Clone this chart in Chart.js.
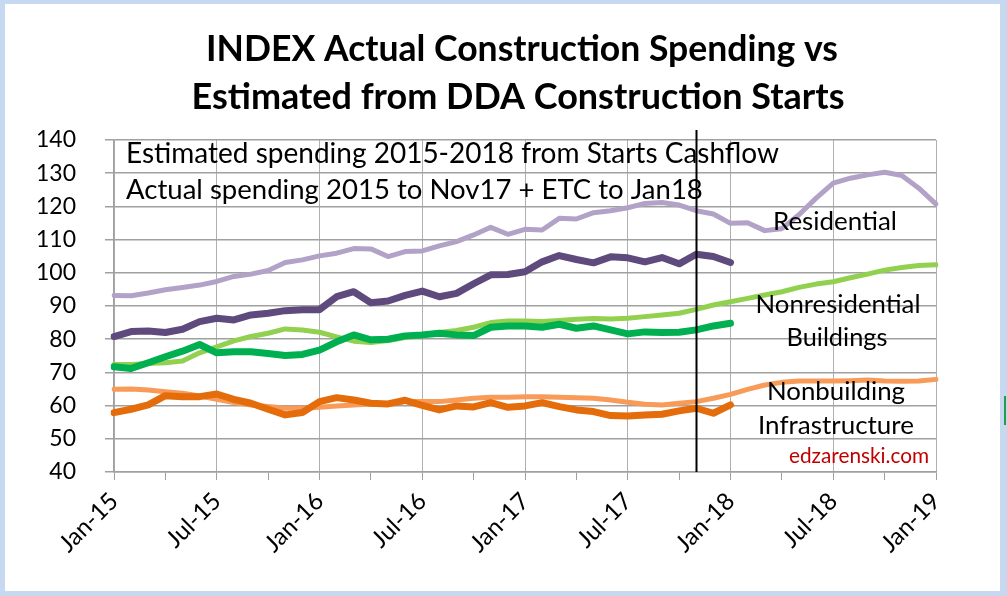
<!DOCTYPE html>
<html>
<head>
<meta charset="utf-8">
<style>
  html, body { margin: 0; padding: 0; overflow: hidden; background: #C6D9F1; }
  #wrap { position: absolute; left: 0; top: 0; width: 1007px; height: 596px; }
</style>
<script src="https://cdn.jsdelivr.net/npm/chart.js@4.4.0/dist/chart.umd.min.js"></script>
</head>
<body>
<div id="wrap"><canvas id="c" width="1007" height="596"></canvas></div>
<script>
// ---------------- DATA ----------------
const months = [
  'Jan-15','Feb-15','Mar-15','Apr-15','May-15','Jun-15','Jul-15','Aug-15','Sep-15','Oct-15','Nov-15','Dec-15',
  'Jan-16','Feb-16','Mar-16','Apr-16','May-16','Jun-16','Jul-16','Aug-16','Sep-16','Oct-16','Nov-16','Dec-16',
  'Jan-17','Feb-17','Mar-17','Apr-17','May-17','Jun-17','Jul-17','Aug-17','Sep-17','Oct-17','Nov-17','Dec-17',
  'Jan-18','Feb-18','Mar-18','Apr-18','May-18','Jun-18','Jul-18','Aug-18','Sep-18','Oct-18','Nov-18','Dec-18',
  'Jan-19'
];

// Estimated from starts cashflow (Jan-15 .. Jan-19)
const residentialEst = [
  93.2, 93.1, 93.9, 94.9, 95.6, 96.3, 97.4, 98.9, 99.6, 100.7, 103.1, 103.9,
  105.1, 105.9, 107.3, 107.2, 104.9, 106.4, 106.6, 108.1, 109.4, 111.4, 113.7, 111.6,
  113.1, 112.9, 116.4, 116.2, 118.1, 118.7, 119.6, 120.9, 121.2, 120.4, 118.7, 117.7,
  114.9, 115.1, 112.7, 113.3, 117.5, 122.5, 127.0, 128.5, 129.5, 130.3, 129.3, 125.5,
  120.7
];
const nonresEst = [
  72.4, 72.4, 72.7, 72.9, 73.4, 75.9, 77.7, 79.5, 80.8, 81.8, 83.1, 82.8,
  82.1, 80.7, 79.4, 79.0, 79.6, 80.5, 81.0, 82.0, 82.6, 83.6, 85.0, 85.5,
  85.5, 85.3, 85.6, 86.0, 86.2, 86.1, 86.3, 86.8, 87.3, 87.8, 89.0, 90.3,
  91.3, 92.3, 93.3, 94.3, 95.6, 96.6, 97.3, 98.5, 99.6, 100.8, 101.6, 102.2,
  102.4
];
const nonbuildEst = [
  64.9, 65.0, 64.7, 64.2, 63.7, 62.9, 61.9, 60.9, 60.2, 59.7, 59.2, 59.2,
  59.5, 59.9, 60.2, 60.5, 60.5, 61.2, 61.2, 61.2, 61.7, 62.2, 62.5, 62.5,
  62.7, 62.7, 62.5, 62.4, 62.2, 61.7, 61.0, 60.4, 60.2, 60.7, 61.2, 62.2,
  63.4, 64.9, 66.2, 67.0, 67.4, 67.4, 67.4, 67.5, 67.7, 67.4, 67.3, 67.4,
  67.9
];

// Actual spending (Jan-15 .. Jan-18)
const residentialAct = [
  80.8, 82.3, 82.5, 82.0, 83.0, 85.3, 86.3, 85.8, 87.3, 87.8, 88.6, 88.9,
  88.9, 92.8, 94.3, 91.0, 91.5, 93.2, 94.5, 92.8, 93.8, 96.7, 99.4, 99.5,
  100.3, 103.3, 105.2, 104.0, 103.0, 104.8, 104.5, 103.3, 104.6, 102.7, 105.6, 104.9,
  103.1
];
const nonresAct = [
  71.7, 71.2, 72.9, 74.7, 76.4, 78.4, 75.9, 76.2, 76.2, 75.7, 75.1, 75.4,
  76.7, 79.2, 81.3, 79.8, 80.0, 81.0, 81.3, 81.8, 81.3, 81.1, 83.6, 84.0,
  84.0, 83.6, 84.5, 83.3, 84.0, 82.8, 81.6, 82.2, 82.0, 82.1, 82.8, 84.0,
  84.8
];
const nonbuildAct = [
  57.9, 58.9, 60.2, 63.0, 62.7, 62.7, 63.5, 61.9, 60.7, 58.9, 57.2, 57.9,
  61.2, 62.4, 61.7, 60.7, 60.5, 61.6, 60.1, 58.7, 59.9, 59.6, 60.9, 59.5,
  59.9, 60.9, 59.7, 58.7, 58.2, 57.0, 56.9, 57.2, 57.4, 58.4, 59.2, 57.7,
  60.2
];

const yTicks = { min: 40, max: 140, step: 10 };
const markerMonth = 'Nov-17';

const titleLines = ['INDEX Actual Construction Spending vs', 'Estimated from DDA Construction Starts'];
const noteLines = ['Estimated spending 2015-2018 from Starts Cashflow', 'Actual spending 2015 to Nov17 + ETC to Jan18'];
const seriesLabels = ['Residential', 'Nonresidential', 'Buildings', 'Nonbuilding', 'Infrastructure'];
const sourceText = 'edzarenski.com';

// ---------------- DRAWING ----------------
const FONT = 'Lato, "Open Sans", sans-serif';

function fitFont(ctx, text, weight, targetW) {
  ctx.font = weight + ' 100px ' + FONT;
  const w = ctx.measureText(text).width;
  return weight + ' ' + (100 * targetW / w).toFixed(2) + 'px ' + FONT;
}
function drawText(ctx, text, x, y, align, targetW, weight, color) {
  ctx.font = fitFont(ctx, text, weight, targetW);
  ctx.fillStyle = color || '#000';
  ctx.textAlign = align;
  ctx.textBaseline = 'alphabetic';
  ctx.fillText(text, x, y);
}

const bgPlugin = {
  id: 'bg',
  beforeDraw(chart) {
    const ctx = chart.ctx;
    ctx.save();
    ctx.fillStyle = '#C6D9F1';
    ctx.fillRect(0, 0, chart.width, chart.height);
    ctx.fillStyle = '#FFFFFF';
    ctx.fillRect(5, 4, 995, 587);
    ctx.fillStyle = '#1E9E4A';
    ctx.fillRect(1004, 396, 2, 29);
    ctx.restore();
  }
};

const overlayPlugin = {
  id: 'overlay',
  afterDatasetsDraw(chart) {
    const ctx = chart.ctx;
    const xs = chart.scales.x;
    const area = chart.chartArea;
    ctx.save();
    // vertical marker
    const mx = Math.round(xs.getPixelForValue(months.indexOf(markerMonth))) + 0.5;
    ctx.strokeStyle = '#000';
    ctx.lineWidth = 2;
    ctx.beginPath();
    ctx.moveTo(mx, area.top - 10);
    ctx.lineTo(mx, area.bottom);
    ctx.stroke();

    // title
    drawText(ctx, titleLines[0], 522, 61, 'center', 632, 'bold');
    drawText(ctx, titleLines[1], 518, 109, 'center', 653, 'bold');
    // notes
    drawText(ctx, noteLines[0], 126, 163, 'left', 653, 'normal');
    drawText(ctx, noteLines[1], 126, 199, 'left', 577, 'normal');
    // series labels
    drawText(ctx, seriesLabels[0], 835, 230, 'center', 124, 'normal');
    drawText(ctx, seriesLabels[1], 838, 313, 'center', 165, 'normal');
    drawText(ctx, seriesLabels[2], 837, 346, 'center', 101, 'normal');
    drawText(ctx, seriesLabels[3], 836, 400, 'center', 138, 'normal');
    drawText(ctx, seriesLabels[4], 836, 434, 'center', 156, 'normal');
    drawText(ctx, sourceText, 859, 463, 'center', 140, 'normal', '#C00000');
    ctx.restore();
  }
};

const lineDs = (data, color, width, order) => ({
  data, borderColor: color, backgroundColor: color, borderWidth: width,
  pointRadius: 0, tension: 0, fill: false, order,
  borderJoinStyle: 'round', borderCapStyle: 'round'
});

new Chart(document.getElementById('c'), {
  type: 'line',
  data: {
    labels: months,
    datasets: [
      lineDs(residentialAct, '#5F4A7D', 7, 1),
      lineDs(nonresAct, '#00B050', 7, 1),
      lineDs(nonbuildAct, '#E46C0A', 7, 1),
      lineDs(residentialEst, '#B3A2C7', 5, 2),
      lineDs(nonresEst, '#92D050', 5, 2),
      lineDs(nonbuildEst, '#F89B58', 5, 2)
    ]
  },
  options: {
    responsive: false,
    animation: false,
    events: [],
    layout: { padding: { top: 140, right: 71, bottom: 0, left: 0 } },
    plugins: { legend: { display: false }, tooltip: { enabled: false }, title: { display: false } },
    scales: {
      x: {
        type: 'category',
        offset: false,
        grid: {
          color: c => (c.index % 6 === 0 ? '#B0B0B0' : 'rgba(0,0,0,0)'),
          tickColor: c => (c.index % 3 === 0 ? '#A0A0A0' : 'rgba(0,0,0,0)'),
          lineWidth: 1,
          tickLength: 8
        },
        border: { color: '#A0A0A0', width: 1.5 },
        ticks: {
          autoSkip: false, maxRotation: 45, minRotation: 45, padding: 7,
          color: '#000', font: { family: FONT, size: 24 },
          callback: (v, i) => (i % 6 === 0 ? months[i] : '')
        },
        afterFit: s => { s.height = 124; }
      },
      y: {
        min: yTicks.min, max: yTicks.max,
        grid: { color: '#A0A0A0', lineWidth: 1.5, tickLength: 9 },
        border: { color: '#A0A0A0', width: 1.5 },
        ticks: { stepSize: yTicks.step, padding: 29, color: '#000', font: { family: FONT, size: 23 } },
        afterFit: s => { s.width = 114; }
      }
    }
  },
  plugins: [bgPlugin, overlayPlugin]
});
</script>
</body>
</html>
